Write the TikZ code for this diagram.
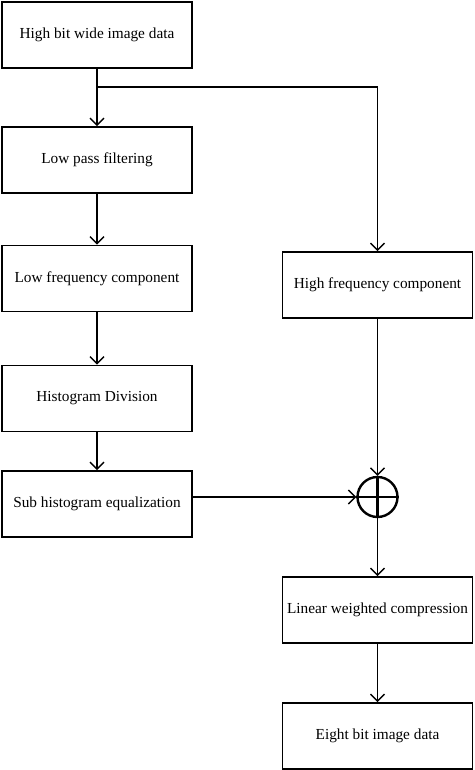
\documentclass[tikz,border=0pt]{standalone}
\usepackage{fontspec}
\setmainfont{Liberation Serif}
\usetikzlibrary{arrows.meta, positioning}

\begin{document}
\begin{tikzpicture}[x=1pt, y=-1pt,
    block/.style={draw, line width=1.6pt, minimum width=190pt, minimum height=66pt,
        inner sep=0pt, font=\fontsize{15.3}{17}\selectfont},
    arrow/.style={line width=1.4pt, -{Straight Barb[length=7pt, width=14pt, line width=1.4pt]}},
    link/.style={line width=1.4pt}]
    \useasboundingbox (0,0) rectangle (474,770);

    % Left column
    \node[block] (high) at (97,35) {High bit wide image data};
    \node[block] (lpf) at (97,160) {Low pass filtering};
    \node[block] (lfc) at (97,278.5) {Low frequency component};
    \node[block] (hist) at (97,398.5) {Histogram Division};
    \node[block] (she) at (97,504) {Sub histogram equalization};

    % Right column
    \node[block] (hfc) at (377.5,285) {High frequency component};
    \node[circle, draw, line width=2.4pt, minimum size=40pt, inner sep=0pt] (sum) at (377.5,497) {};
    \node[block] (lwc) at (377.5,610) {Linear weighted compression};
    \node[block] (eight) at (377.5,736) {Eight bit image data};

    % Plus sign
    \draw[line width=2.4pt] (sum.north) -- (sum.south);
    \draw[line width=2.4pt] (sum.west) -- (sum.east);

    % Split point
    \coordinate (split) at (97,87);

    % Connectors
    \draw[link] (high.south) -- (split);
    \draw[arrow] (split) -- (lpf.north);
    \draw[arrow] (split) -| (hfc.north);
    \draw[arrow] (lpf.south) -- (lfc.north);
    \draw[arrow] (lfc.south) -- (hist.north);
    \draw[arrow] (hist.south) -- (she.north);
    \draw[arrow] (she.east |- sum) -- (sum.west);
    \draw[arrow] (hfc.south) -- (sum.north);
    \draw[arrow] (sum.south) -- (lwc.north);
    \draw[arrow] (lwc.south) -- (eight.north);
\end{tikzpicture}
\end{document}
